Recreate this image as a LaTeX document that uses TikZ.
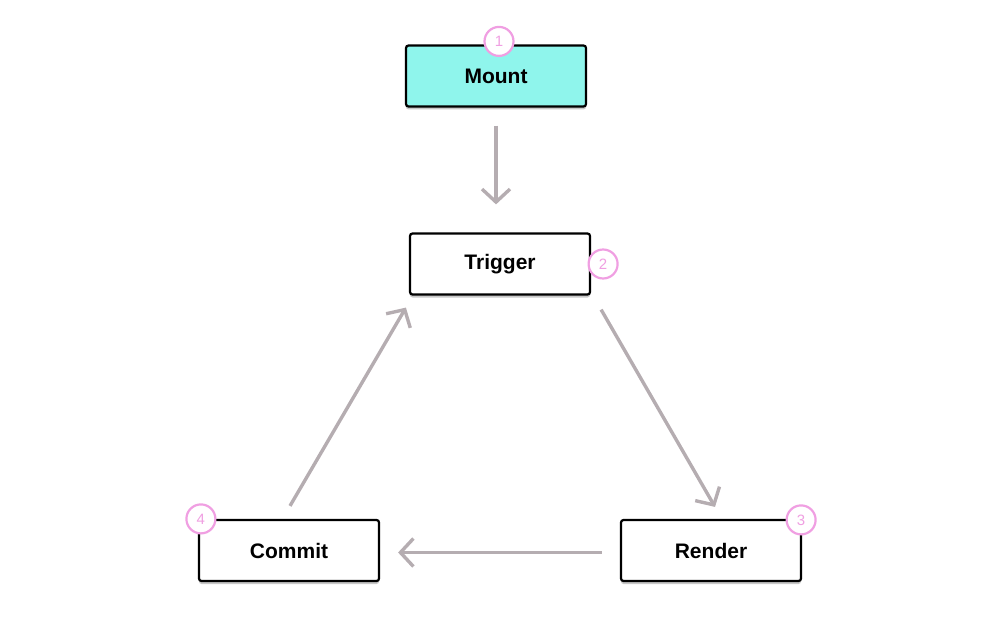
\documentclass[tikz,border=0pt]{standalone}
\usepackage{fontspec}
\setmainfont{Liberation Sans}
\usetikzlibrary{positioning,arrows.meta,shadows}
\definecolor{mintfill}{HTML}{8FF5EC}
\definecolor{arrowgray}{HTML}{B5ADB1}
\definecolor{badgepink}{HTML}{F09FE2}
\tikzstyle{block} = [rectangle, draw, line width=2.2pt, fill=white, text centered, rounded corners=2.5pt, minimum width=180pt, minimum height=61pt, inner sep=0pt, font=\fontsize{21}{24}\selectfont\bfseries, drop shadow={shadow xshift=0pt, shadow yshift=-3pt, opacity=0.22, fill=black}]
\tikzstyle{badge} = [circle, draw=badgepink, line width=2.2pt, fill=white, minimum size=29pt, inner sep=0pt, text=badgepink, font=\fontsize{15}{16}\selectfont]
\tikzstyle{line} = [draw=arrowgray, line width=3.4pt, -{Straight Barb[length=13pt,width=28pt,line width=3.4pt]}]

\begin{document}
\begin{tikzpicture}[x=1pt, y=-1pt]
	\useasboundingbox (0,0) rectangle (1000,620);
	\node[block, fill=mintfill] (mount) at (496,76) {Mount};
	\node[block] (trig) at (500,264) {Trigger};
	\node[block] (ren) at (711,550.5) {Render};
	\node[block] (com) at (289,550.5) {Commit};

	\node[badge, xshift=3pt, yshift=3pt] (b1) at (mount.north) {1};
	\node[badge, xshift=12pt] (b2) at (trig.east) {2};
	\node[badge, xshift=-1pt, yshift=-1pt] (b3) at (ren.north east) {3};
	\node[badge, xshift=3pt, yshift=0pt] (b4) at (com.north west) {4};

	\path[line, shorten <=18pt, shorten >=28pt] (mount.south) -- (mount.south |- trig.north);
	\path[line] ([xshift=10pt,yshift=-14pt]trig.south east) -- ([xshift=4pt,yshift=12pt]ren.north);
	\path[line] ([xshift=-18pt,yshift=-2pt]ren.west) -- ([xshift=18pt,yshift=-2pt]com.east);
	\path[line] ([xshift=1pt,yshift=13pt]com.north) -- ([xshift=-3pt,yshift=-12pt]trig.south west);
\end{tikzpicture}
\end{document}
